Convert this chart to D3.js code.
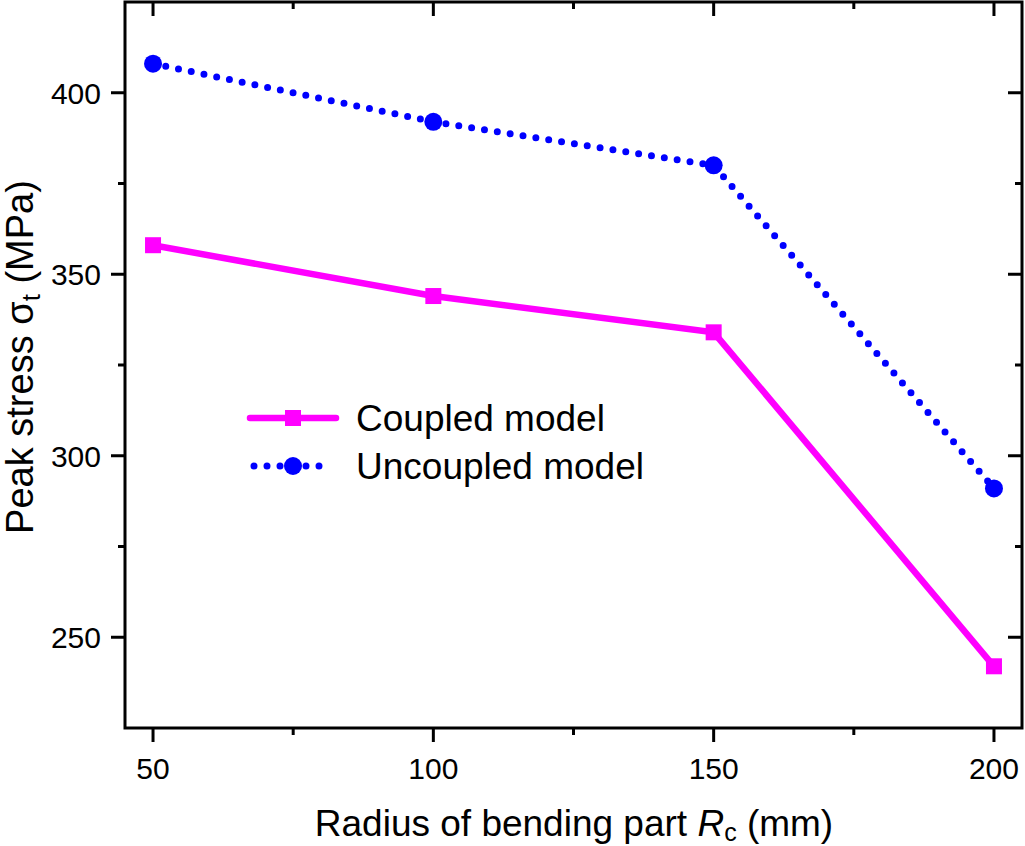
<!DOCTYPE html>
<html>
<head>
<meta charset="utf-8">
<script src="https://cdn.jsdelivr.net/npm/d3@7"></script>
<style>
  body { margin: 0; background: #fff; }
  svg { font-family: "Liberation Sans", Arial, sans-serif; }
</style>
</head>
<body>
<div id="chart"></div>
<script>
var radii = [50, 100, 150, 200];
var coupled = [358, 344, 334, 242];
var uncoupled = [408, 392, 380, 291];
var xTicks = [50, 100, 150, 200];
var yTicks = [250, 300, 350, 400];

(function() {
  var width = 1025
    , height = 846
    , left = 125
    , right = 1022
    , top = 2
    , bottom = 728
    , x = d3.scaleLinear().domain([45, 205]).range([left, right])
    , y = d3.scaleLinear().domain([225, 425]).range([bottom, top])
    , xMinor = d3.range(50, 201, 25)
    , yMinor = d3.range(250, 401, 25)
    ;

  var svg = d3.select('#chart').append('svg')
    .attr('width', width)
    .attr('height', height);

  // series
  var line = d3.line()
    .x(d => x(d[0]))
    .y(d => y(d[1]));

  var coupledPts = radii.map((r, i) => [r, coupled[i]])
    , uncoupledPts = radii.map((r, i) => [r, uncoupled[i]]);

  svg.append('path')
    .attr('d', line(coupledPts))
    .attr('fill', 'none')
    .attr('stroke', '#ff00ff')
    .attr('stroke-width', 6.5);

  svg.append('path')
    .attr('d', line(uncoupledPts))
    .attr('fill', 'none')
    .attr('stroke', '#0000ff')
    .attr('stroke-width', 7)
    .attr('stroke-linecap', 'round')
    .attr('stroke-dasharray', '0 13');

  svg.selectAll('rect.cm')
    .data(coupledPts)
    .enter().append('rect')
      .attr('class', 'cm')
      .attr('x', d => x(d[0]) - 8)
      .attr('y', d => y(d[1]) - 8)
      .attr('width', 16)
      .attr('height', 16)
      .attr('fill', '#ff00ff');

  svg.selectAll('circle.um')
    .data(uncoupledPts)
    .enter().append('circle')
      .attr('class', 'um')
      .attr('cx', d => x(d[0]))
      .attr('cy', d => y(d[1]))
      .attr('r', 9)
      .attr('fill', '#0000ff');

  // axes
  var gAxes = svg.append('g')
    .attr('stroke', '#000')
    .attr('stroke-width', 3);

  gAxes.append('rect')
    .attr('x', left)
    .attr('y', top)
    .attr('width', right - left)
    .attr('height', bottom - top)
    .attr('fill', 'none');

  xMinor.forEach(function(v) {
    var major = xTicks.indexOf(v) >= 0
      , len = major ? 14 : 7;
    gAxes.append('line')
      .attr('x1', x(v)).attr('x2', x(v))
      .attr('y1', bottom).attr('y2', bottom + len);
    gAxes.append('line')
      .attr('x1', x(v)).attr('x2', x(v))
      .attr('y1', top).attr('y2', top + len);
  });

  yMinor.forEach(function(v) {
    var major = yTicks.indexOf(v) >= 0
      , len = major ? 14 : 7;
    gAxes.append('line')
      .attr('x1', left).attr('x2', left - len)
      .attr('y1', y(v)).attr('y2', y(v));
    gAxes.append('line')
      .attr('x1', right).attr('x2', right - len)
      .attr('y1', y(v)).attr('y2', y(v));
  });

  svg.selectAll('text.xt')
    .data(xTicks)
    .enter().append('text')
      .attr('x', d => x(d))
      .attr('y', 779)
      .attr('text-anchor', 'middle')
      .attr('font-size', 30)
      .text(d => d);

  svg.selectAll('text.yt')
    .data(yTicks)
    .enter().append('text')
      .attr('x', 101)
      .attr('y', d => y(d) + 11)
      .attr('text-anchor', 'end')
      .attr('font-size', 30)
      .text(d => d);

  // axis titles
  var xt = svg.append('text')
    .attr('x', 574)
    .attr('y', 836)
    .attr('text-anchor', 'middle')
    .attr('font-size', 37);
  xt.append('tspan').text('Radius of bending part ');
  xt.append('tspan').attr('font-style', 'italic').text('R');
  xt.append('tspan').attr('font-size', 25).attr('dy', 5).text('c');
  xt.append('tspan').attr('dy', -5).text(' (mm)');

  var yt = svg.append('text')
    .attr('transform', 'translate(33,357) rotate(-90)')
    .attr('text-anchor', 'middle')
    .attr('font-size', 38);
  yt.append('tspan').text('Peak stress \u03c3');
  yt.append('tspan').attr('font-size', 26).attr('dy', 7).text('t');
  yt.append('tspan').attr('dy', -7).text(' (MPa)');

  // legend
  var legend = [
    { label: 'Coupled model', y: 418, kind: 'c' },
    { label: 'Uncoupled model', y: 466, kind: 'u' }
  ];
  legend.forEach(function(d) {
    var g = svg.append('g');
    if (d.kind === 'c') {
      g.append('line')
        .attr('x1', 250).attr('x2', 336)
        .attr('y1', d.y).attr('y2', d.y)
        .attr('stroke', '#ff00ff')
        .attr('stroke-width', 6.5)
        .attr('stroke-linecap', 'round');
      g.append('rect')
        .attr('x', 285).attr('y', d.y - 8)
        .attr('width', 16).attr('height', 16)
        .attr('fill', '#ff00ff');
    } else {
      g.append('line')
        .attr('x1', 254).attr('x2', 332)
        .attr('y1', d.y).attr('y2', d.y)
        .attr('stroke', '#0000ff')
        .attr('stroke-width', 7)
        .attr('stroke-linecap', 'round')
        .attr('stroke-dasharray', '0 13');
      g.append('circle')
        .attr('cx', 293).attr('cy', d.y)
        .attr('r', 9)
        .attr('fill', '#0000ff');
    }
    g.append('text')
      .attr('x', 356)
      .attr('y', d.y + 13)
      .attr('font-size', 37)
      .text(d.label);
  });
})();
</script>
</body>
</html>
